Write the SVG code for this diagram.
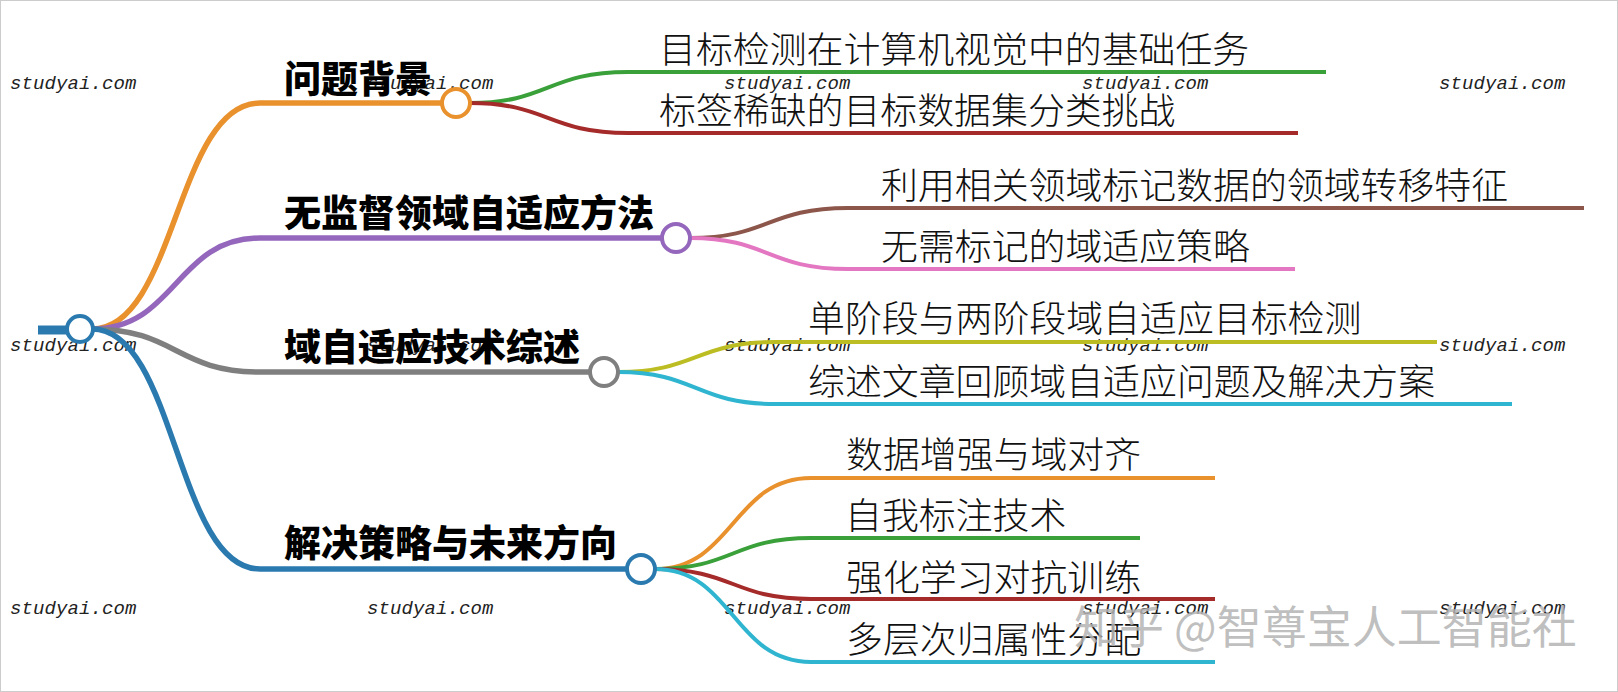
<svg xmlns="http://www.w3.org/2000/svg" width="1618" height="692" viewBox="0 0 1618 692">
<style>
.c{fill:none;stroke-width:4}
.m{fill:none;stroke-width:5.5}
.n{fill:#fff;stroke-width:4}
.t{font-family:"Noto Sans CJK SC","Noto Sans",sans-serif;font-size:36.9px;font-weight:300;fill:#111}
.b{font-family:"Noto Sans CJK SC","Noto Sans",sans-serif;font-size:37px;font-weight:900;fill:#000}
.w{font-family:"Liberation Mono",monospace;font-style:italic;font-size:19px;letter-spacing:.1px;fill:#222}
.z{font-family:"Noto Sans CJK SC","Noto Sans",sans-serif;font-size:45px;fill:#b4b4b4;fill-opacity:.85}
</style>
<rect x="0.5" y="0.5" width="1617" height="691" fill="#fff" stroke="#ccc"/>
<g id="watermarks">
<text class="w" x="10" y="89">studyai.com</text><text class="w" x="367" y="89">studyai.com</text><text class="w" x="724" y="89">studyai.com</text><text class="w" x="1082" y="89">studyai.com</text><text class="w" x="1439" y="89">studyai.com</text>
<text class="w" x="10" y="351">studyai.com</text><text class="w" x="367" y="351">studyai.com</text><text class="w" x="724" y="351">studyai.com</text><text class="w" x="1082" y="351">studyai.com</text><text class="w" x="1439" y="351">studyai.com</text>
<text class="w" x="10" y="614">studyai.com</text><text class="w" x="367" y="614">studyai.com</text><text class="w" x="724" y="614">studyai.com</text><text class="w" x="1082" y="614">studyai.com</text><text class="w" x="1439" y="614">studyai.com</text>
</g>
<g id="connectors">
<path d="M38 330H70" fill="none" stroke="#2a7ab0" stroke-width="9"/>
<path class="m" stroke="#e8912d" d="M92 329C176 329 176 103 260 103H443"/>
<path class="m" stroke="#9467bd" d="M92 329C176 329 176 238 260 238H662"/>
<path class="m" stroke="#7f7f7f" d="M92 329C176 329 176 372 260 372H590"/>
<path class="m" stroke="#2a7ab0" d="M92 329C176 329 176 569 260 569H628"/>
<path class="c" stroke="#3aa03a" d="M470 103C548 103 548 72 628 72H1326"/>
<path class="c" stroke="#a52a2a" d="M470 103C548 103 548 133 628 133H1298"/>
<path class="c" stroke="#8c564b" d="M690 238C768 238 768 208 848 208H1584"/>
<path class="c" stroke="#e377c2" d="M690 238C768 238 768 269 848 269H1295"/>
<path class="c" stroke="#bcbd22" d="M618 372C696 372 696 342 776 342H1437"/>
<path class="c" stroke="#2fb5d0" d="M618 372C696 372 696 404 776 404H1512"/>
<path class="c" stroke="#e8912d" d="M655 569C733 569 733 478 811 478H1215"/>
<path class="c" stroke="#3aa03a" d="M655 569C733 569 733 538 811 538H1140"/>
<path class="c" stroke="#a52a2a" d="M655 569C733 569 733 599 811 599H1215"/>
<path class="c" stroke="#2fb5d0" d="M655 569C733 569 733 662 811 662H1215"/>
</g>
<g id="root"><circle class="n" stroke="#2a7ab0" cx="80" cy="329" r="13"/></g>
<g id="n1"><text class="b" x="284" y="93">问题背景</text><circle class="n" stroke="#e8912d" cx="456" cy="103" r="14"/></g>
<g id="n2"><text class="b" x="284" y="227">无监督领域自适应方法</text><circle class="n" stroke="#9467bd" cx="676" cy="238" r="14"/></g>
<g id="n3"><text class="b" x="284" y="361">域自适应技术综述</text><circle class="n" stroke="#7f7f7f" cx="604" cy="372" r="14"/></g>
<g id="n4"><text class="b" x="284" y="557">解决策略与未来方向</text><circle class="n" stroke="#2a7ab0" cx="641" cy="569" r="14"/></g>
<g id="n11"><text class="t" x="659" y="63">目标检测在计算机视觉中的基础任务</text></g>
<g id="n12"><text class="t" x="659" y="124">标签稀缺的目标数据集分类挑战</text></g>
<g id="n21"><text class="t" x="881" y="199">利用相关领域标记数据的领域转移特征</text></g>
<g id="n22"><text class="t" x="881" y="260">无需标记的域适应策略</text></g>
<g id="n31"><text class="t" x="808" y="332">单阶段与两阶段域自适应目标检测</text></g>
<g id="n32"><text class="t" x="808" y="395">综述文章回顾域自适应问题及解决方案</text></g>
<g id="n41"><text class="t" x="846" y="468">数据增强与域对齐</text></g>
<g id="n42"><text class="t" x="845" y="529">自我标注技术</text></g>
<g id="n43"><text class="t" x="846" y="591">强化学习对抗训练</text></g>
<g id="n44"><text class="t" x="846" y="653">多层次归属性分配</text></g>
<text class="z" x="1074" y="644">知乎 @智尊宝人工智能社</text>
</svg>
